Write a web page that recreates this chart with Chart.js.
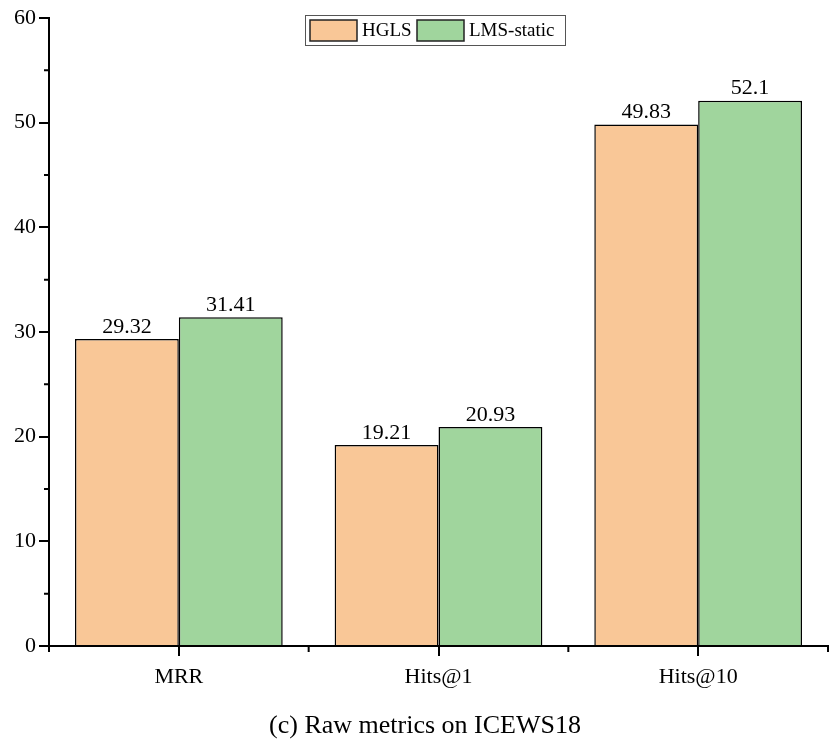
<!DOCTYPE html>
<html><head><meta charset="utf-8">
<script src="https://cdn.jsdelivr.net/npm/chart.js@4"></script>
<style>body{margin:0;background:#fff}#wrap{width:830px;height:748px}</style>
</head><body><div id="wrap"><canvas id="c"></canvas></div>
<script>
const categories = ["MRR", "Hits@1", "Hits@10"];
const hgls = [29.32, 19.21, 49.83];
const lmsStatic = [31.41, 20.93, 52.1];
const hglsLabels = ["29.32", "19.21", "49.83"];
const lmsLabels = ["31.41", "20.93", "52.1"];
const FONT = "'Liberation Serif', 'Times New Roman', serif";

// Value labels, minor ticks, legend box and caption
const extras = {
  id: "extras",
  afterDraw(chart) {
    const ctx = chart.ctx, x = chart.scales.x, y = chart.scales.y;
    ctx.save();
    ctx.fillStyle = "#000";
    ctx.font = "22px " + FONT;
    ctx.textAlign = "center";
    ctx.textBaseline = "bottom";
    [hglsLabels, lmsLabels].forEach((labels, di) => {
      chart.getDatasetMeta(di).data.forEach((bar, i) => {
        ctx.fillText(labels[i], bar.x, bar.y - 1);
      });
    });
    // minor ticks
    ctx.strokeStyle = "#000";
    ctx.lineWidth = 2;
    ctx.beginPath();
    for (let v = 5; v < 60; v += 10) {
      const py = y.getPixelForValue(v);
      ctx.moveTo(y.left + y.width, py); ctx.lineTo(y.left + y.width - 5, py);
    }
    for (let i = 0; i <= categories.length; i++) {
      const px = x.left + (x.width / categories.length) * i;
      ctx.moveTo(px, x.top); ctx.lineTo(px, x.top + 6);
    }
    ctx.stroke();
    // legend
    ctx.lineWidth = 1;
    ctx.strokeStyle = "#555";
    ctx.strokeRect(305.5, 15.5, 260, 30);
    ctx.lineWidth = 1.5;
    ctx.strokeStyle = "#222";
    ctx.fillStyle = "#f9c797";
    ctx.fillRect(310, 20, 47, 21); ctx.strokeRect(310, 20, 47, 21);
    ctx.fillStyle = "#a0d59d";
    ctx.fillRect(417, 20, 47, 21); ctx.strokeRect(417, 20, 47, 21);
    ctx.fillStyle = "#000";
    ctx.font = "19px " + FONT;
    ctx.textAlign = "left";
    ctx.textBaseline = "middle";
    ctx.fillText("HGLS", 362, 31);
    ctx.fillText("LMS-static", 469, 31);
    // caption
    ctx.font = "26px " + FONT;
    ctx.textAlign = "center";
    ctx.textBaseline = "alphabetic";
    ctx.fillText("(c) Raw metrics on ICEWS18", 425, 733);
    ctx.restore();
  }
};

new Chart(document.getElementById("c"), {
  type: "bar",
  data: {
    labels: categories,
    datasets: [
      { label: "HGLS", data: hgls, backgroundColor: "#f9c797", borderColor: "#000", borderWidth: 1.5 },
      { label: "LMS-static", data: lmsStatic, backgroundColor: "#a0d59d", borderColor: "#000", borderWidth: 1.5 }
    ]
  },
  options: {
    responsive: true,
    maintainAspectRatio: false,
    animation: false,
    layout: { padding: { top: 18, right: 2 } },
    datasets: { bar: { categoryPercentage: 0.8, barPercentage: 1 } },
    plugins: { legend: { display: false }, tooltip: { enabled: false } },
    scales: {
      x: {
        afterFit(s) { s.height = 102; },
        grid: { offset: false, drawOnChartArea: false, tickLength: 10, color: "#000", lineWidth: 2 },
        border: { color: "#000", width: 2 },
        ticks: { color: "#000", font: { family: FONT, size: 22 }, padding: 8 }
      },
      y: {
        min: 0, max: 60,
        afterFit(s) { s.width = 49; },
        grid: { drawOnChartArea: false, tickLength: 10, color: "#000", lineWidth: 2 },
        border: { color: "#000", width: 2 },
        ticks: { stepSize: 10, color: "#000", font: { family: FONT, size: 22 }, padding: 3 }
      }
    }
  },
  plugins: [extras]
});
</script></body></html>
